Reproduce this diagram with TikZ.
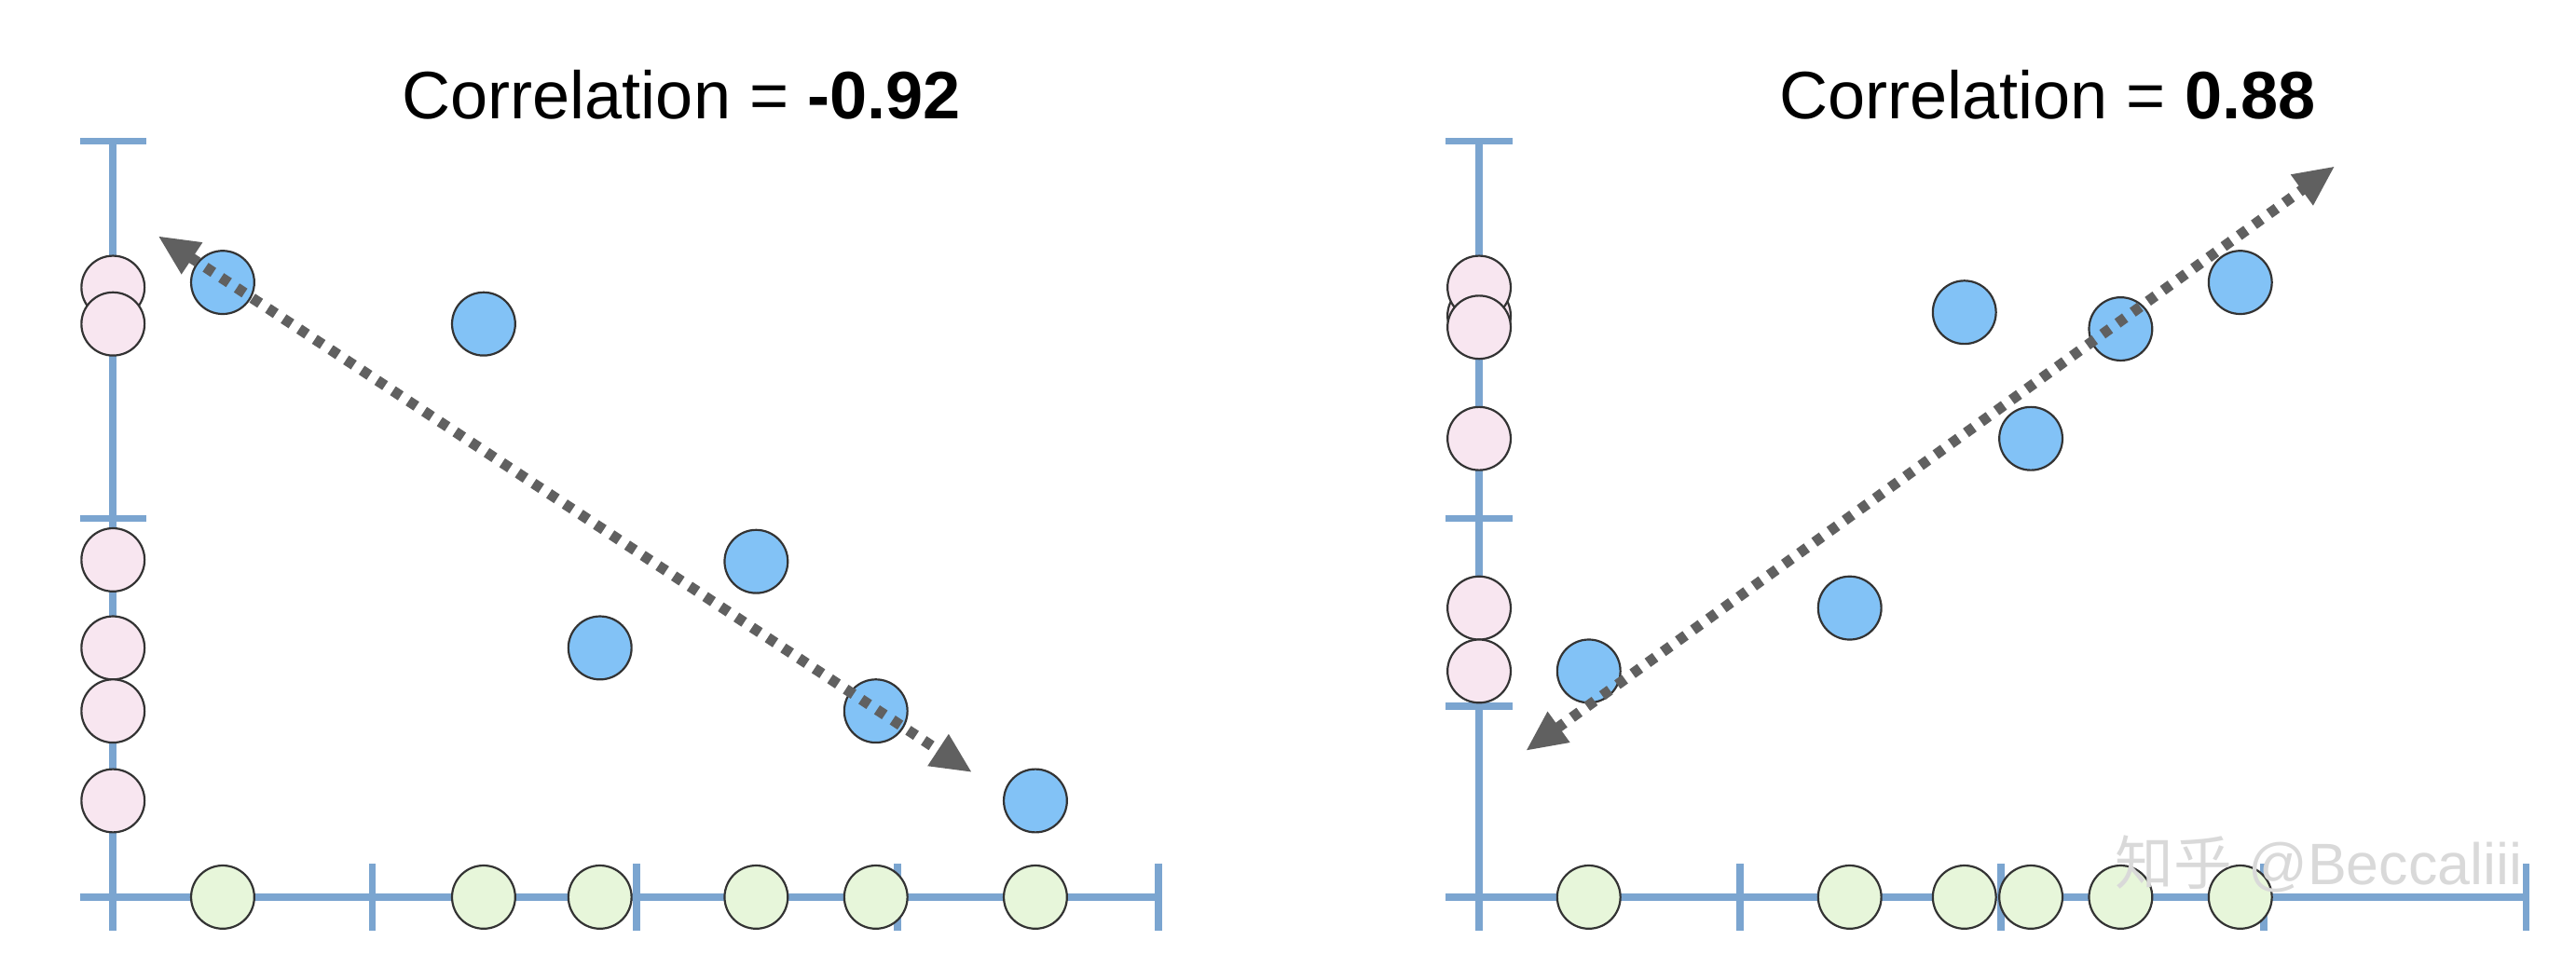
\documentclass[tikz,border=0pt]{standalone}
\usepackage{fontspec}
\setmainfont{Liberation Sans}
\newfontfamily\cjk{Noto Sans CJK SC}
\usetikzlibrary{arrows.meta,calc}
\definecolor{axblue}{HTML}{7BA5D0}
\definecolor{ptblue}{HTML}{82C2F6}
\definecolor{ptpink}{HTML}{F8E6F0}
\definecolor{ptgreen}{HTML}{E7F6DA}
\definecolor{arrgray}{HTML}{606060}
\begin{document}
\begin{tikzpicture}[x=0.01cm,y=-0.01cm,
  ax/.style={draw=axblue,line width=1.2pt},
  pt/.style={circle,draw=black!80,line width=0.35pt,minimum size=0.38cm,inner sep=0pt},
  bp/.style={pt,fill=ptblue},pp/.style={pt,fill=ptpink},gp/.style={pt,fill=ptgreen},
  trend/.style={draw=arrgray,line width=1.8pt,dash pattern=on 1.6pt off 1.6pt,{Triangle[length=7pt,width=6pt]}-{Triangle[length=7pt,width=6pt]}},
  ttl/.style={font=\fontsize{11.5pt}{13pt}\selectfont}]
\useasboundingbox (0,0) rectangle (1550,574);
% left chart
\draw[ax] (68,85) -- (68,560);
\foreach \y in {85,312}{\draw[ax] (48,\y) -- (88,\y);}
\draw[ax] (48,540) -- (697,540);
\foreach \x in {224,383,540,697}{\draw[ax] (\x,520) -- (\x,560);}
\foreach \y/\n in {173/a,195/b,337/c,390/d,428/e,482/f}{\node[pp] (lp\n) at (68,\y) {};}
\foreach \x/\n in {134/a,291/b,361/c,455/d,527/e,623/f}{\node[gp] (lg\n) at (\x,540) {};}
\node[bp] (lb1) at (134,170) {};
\node[bp] (lb2) at (291,195) {};
\node[bp] (lb3) at (455,338) {};
\node[bp] (lb4) at (361,390) {};
\coordinate (la) at (95,142);
\coordinate (lz) at (585,465);
\node[bp] (lb5) at (527,428) {};
\node[bp] (lb6) at (623,482) {};
\draw[trend] (la) -- (lz);
\node[ttl] (lt) at (410,57) {Correlation = \textbf{-0.92}};
% right chart
\draw[ax] (890,85) -- (890,560);
\foreach \y in {85,312,425}{\draw[ax] (870,\y) -- (910,\y);}
\draw[ax] (870,540) -- (1520,540);
\foreach \x in {1047,1204,1362,1520}{\draw[ax] (\x,520) -- (\x,560);}
\foreach \y/\n in {190/a,173/b,197/c,264/d,366/e,404/f}{\node[pp] (rp\n) at (890,\y) {};}
\foreach \x/\n in {956/a,1113/b,1182/c,1222/d,1276/e,1348/f}{\node[gp] (rg\n) at (\x,540) {};}
\foreach \x/\y/\n in {956/404/1,1113/366/2,1182/188/3,1222/264/4,1276/198/5,1348/170/6}{\node[bp] (rb\n) at (\x,\y) {};}
\coordinate (ra) at (918,452);
\coordinate (rz) at (1405,100);
\draw[trend] (ra) -- (rz);
\node[ttl] (rt) at (1232,57) {Correlation = \textbf{0.88}};
\node[font=\fontsize{10pt}{12pt}\selectfont,text=white!85!black,anchor=east] (wm) at (1530,520) {{\cjk 知乎} @Beccaliii};
\end{tikzpicture}
\end{document}
